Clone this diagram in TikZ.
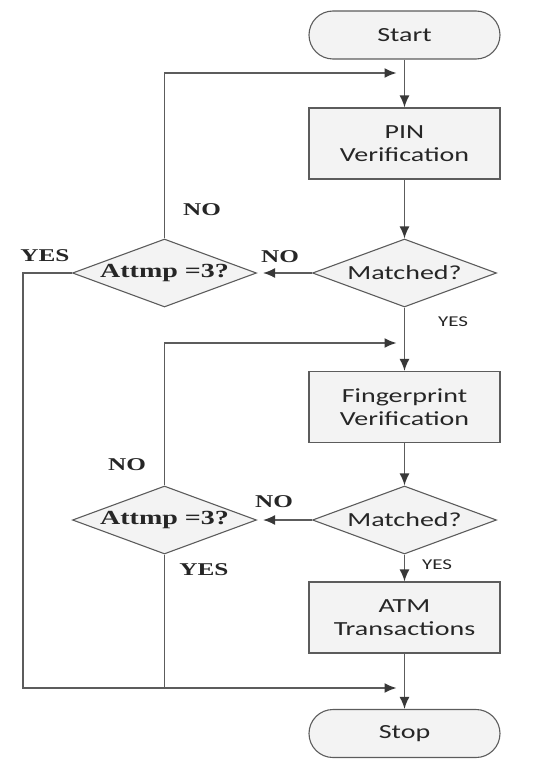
\documentclass[tikz,border=0pt]{standalone}
\usepackage{fontspec}
\setmainfont{Liberation Serif}[FakeStretch=1.4]
\newfontfamily\boxfont{Carlito}[FakeStretch=1.4]
\usepackage{tikz}
\usetikzlibrary{shapes.geometric,arrows.meta}

\definecolor{linegray}{HTML}{5C5C5C}
\definecolor{tipgray}{HTML}{383838}
\definecolor{fillgray}{HTML}{F3F3F3}
\definecolor{textgray}{HTML}{262626}

\begin{document}
\begin{tikzpicture}[x=1pt,y=1pt,auto,
    line width=1.6pt,
    >={Latex[length=12pt,width=10pt,color=tipgray]},
    terminal/.style={draw=linegray, fill=fillgray, line width=1.1pt, rounded corners=24pt, minimum width=191pt, minimum height=48pt, font=\boxfont\fontsize{20}{23}\selectfont, text=textgray},
    process/.style={draw=linegray, fill=fillgray, line width=1.1pt, minimum width=191pt, minimum height=71pt, align=center, font=\boxfont\fontsize{20}{23}\selectfont, text=textgray},
    decision/.style={diamond, draw=linegray, fill=fillgray, line width=1.1pt, aspect=2.7, inner sep=0pt, minimum width=184pt, minimum height=68pt, font=\boxfont\fontsize{20}{23}\selectfont, text=textgray},
    counter/.style={decision, font=\bfseries\fontsize{20}{23}\selectfont},
    answer/.style={font=\bfseries\fontsize{18}{20}\selectfont, text=textgray},
    small answer/.style={font=\boxfont\fontsize{15}{17}\selectfont, text=textgray}]
    \useasboundingbox (-404.5,35) rectangle (143.5,-741);

    \node [terminal] (start) at (0,0) {Start};
    \node [coordinate, yshift=-38pt] (merge pin) at (start) {};
    \node [process, yshift=-108.5pt] (pin) at (start) {PIN\\Verification};
    \node [decision, yshift=-238pt] (pin match) at (start) {Matched?};
    \node [counter, xshift=-240pt] (pin attempt) at (pin match) {Attmp =3?};

    \node [coordinate, yshift=-308pt] (merge finger) at (start) {};
    \node [process, yshift=-372pt] (finger) at (start) {Fingerprint\\Verification};
    \node [decision, yshift=-485pt] (finger match) at (start) {Matched?};
    \node [counter, xshift=-240pt] (finger attempt) at (finger match) {Attmp =3?};

    \node [process, yshift=-582.5pt] (atm) at (start) {ATM\\Transactions};
    \node [coordinate, yshift=-653pt] (merge stop) at (start) {};
    \node [terminal, yshift=-698.5pt] (stop) at (start) {Stop};
    \node [coordinate, xshift=-381.5pt] (rail) at (merge stop) {};

    \path[->, draw=linegray] (start) edge (pin);
    \path[->, draw=linegray] (pin) edge (pin match);
    \path[->, draw=linegray, shorten >=6pt] (pin match) edge (pin attempt);
    \path[->, draw=linegray] (pin match) edge (finger);
    \path[->, draw=linegray] (finger) edge (finger match);
    \path[->, draw=linegray, shorten >=6pt] (finger match) edge (finger attempt);
    \path[->, draw=linegray] (finger match) edge (atm);
    \path[->, draw=linegray] (atm) edge (stop);

    \draw[->, draw=linegray, shorten >=8pt] (pin attempt.north) |- (merge pin);
    \draw[->, draw=linegray, shorten >=8pt] (finger attempt.north) |- (merge finger);
    \draw[->, draw=linegray, shorten >=8pt] (pin attempt.west) -| (rail) -- (merge stop);
    \draw[draw=linegray] (finger attempt.south) -- (finger attempt.south |- merge stop);

    \node[answer] (pin retry label) at (-202.5,-175) {NO};
    \node[answer] (pin block label) at (-359.5,-221) {YES};
    \node[answer] (pin fail label) at (-124.5,-222) {NO};
    \node[small answer] (pin ok label) at (48.5,-287) {YES};

    \node[answer] (finger retry label) at (-277.5,-430) {NO};
    \node[answer] (finger fail label) at (-130.5,-467) {NO};
    \node[answer] (finger block label) at (-200.5,-535) {YES};
    \node[small answer] (finger ok label) at (32.5,-530) {YES};
\end{tikzpicture}
\end{document}
